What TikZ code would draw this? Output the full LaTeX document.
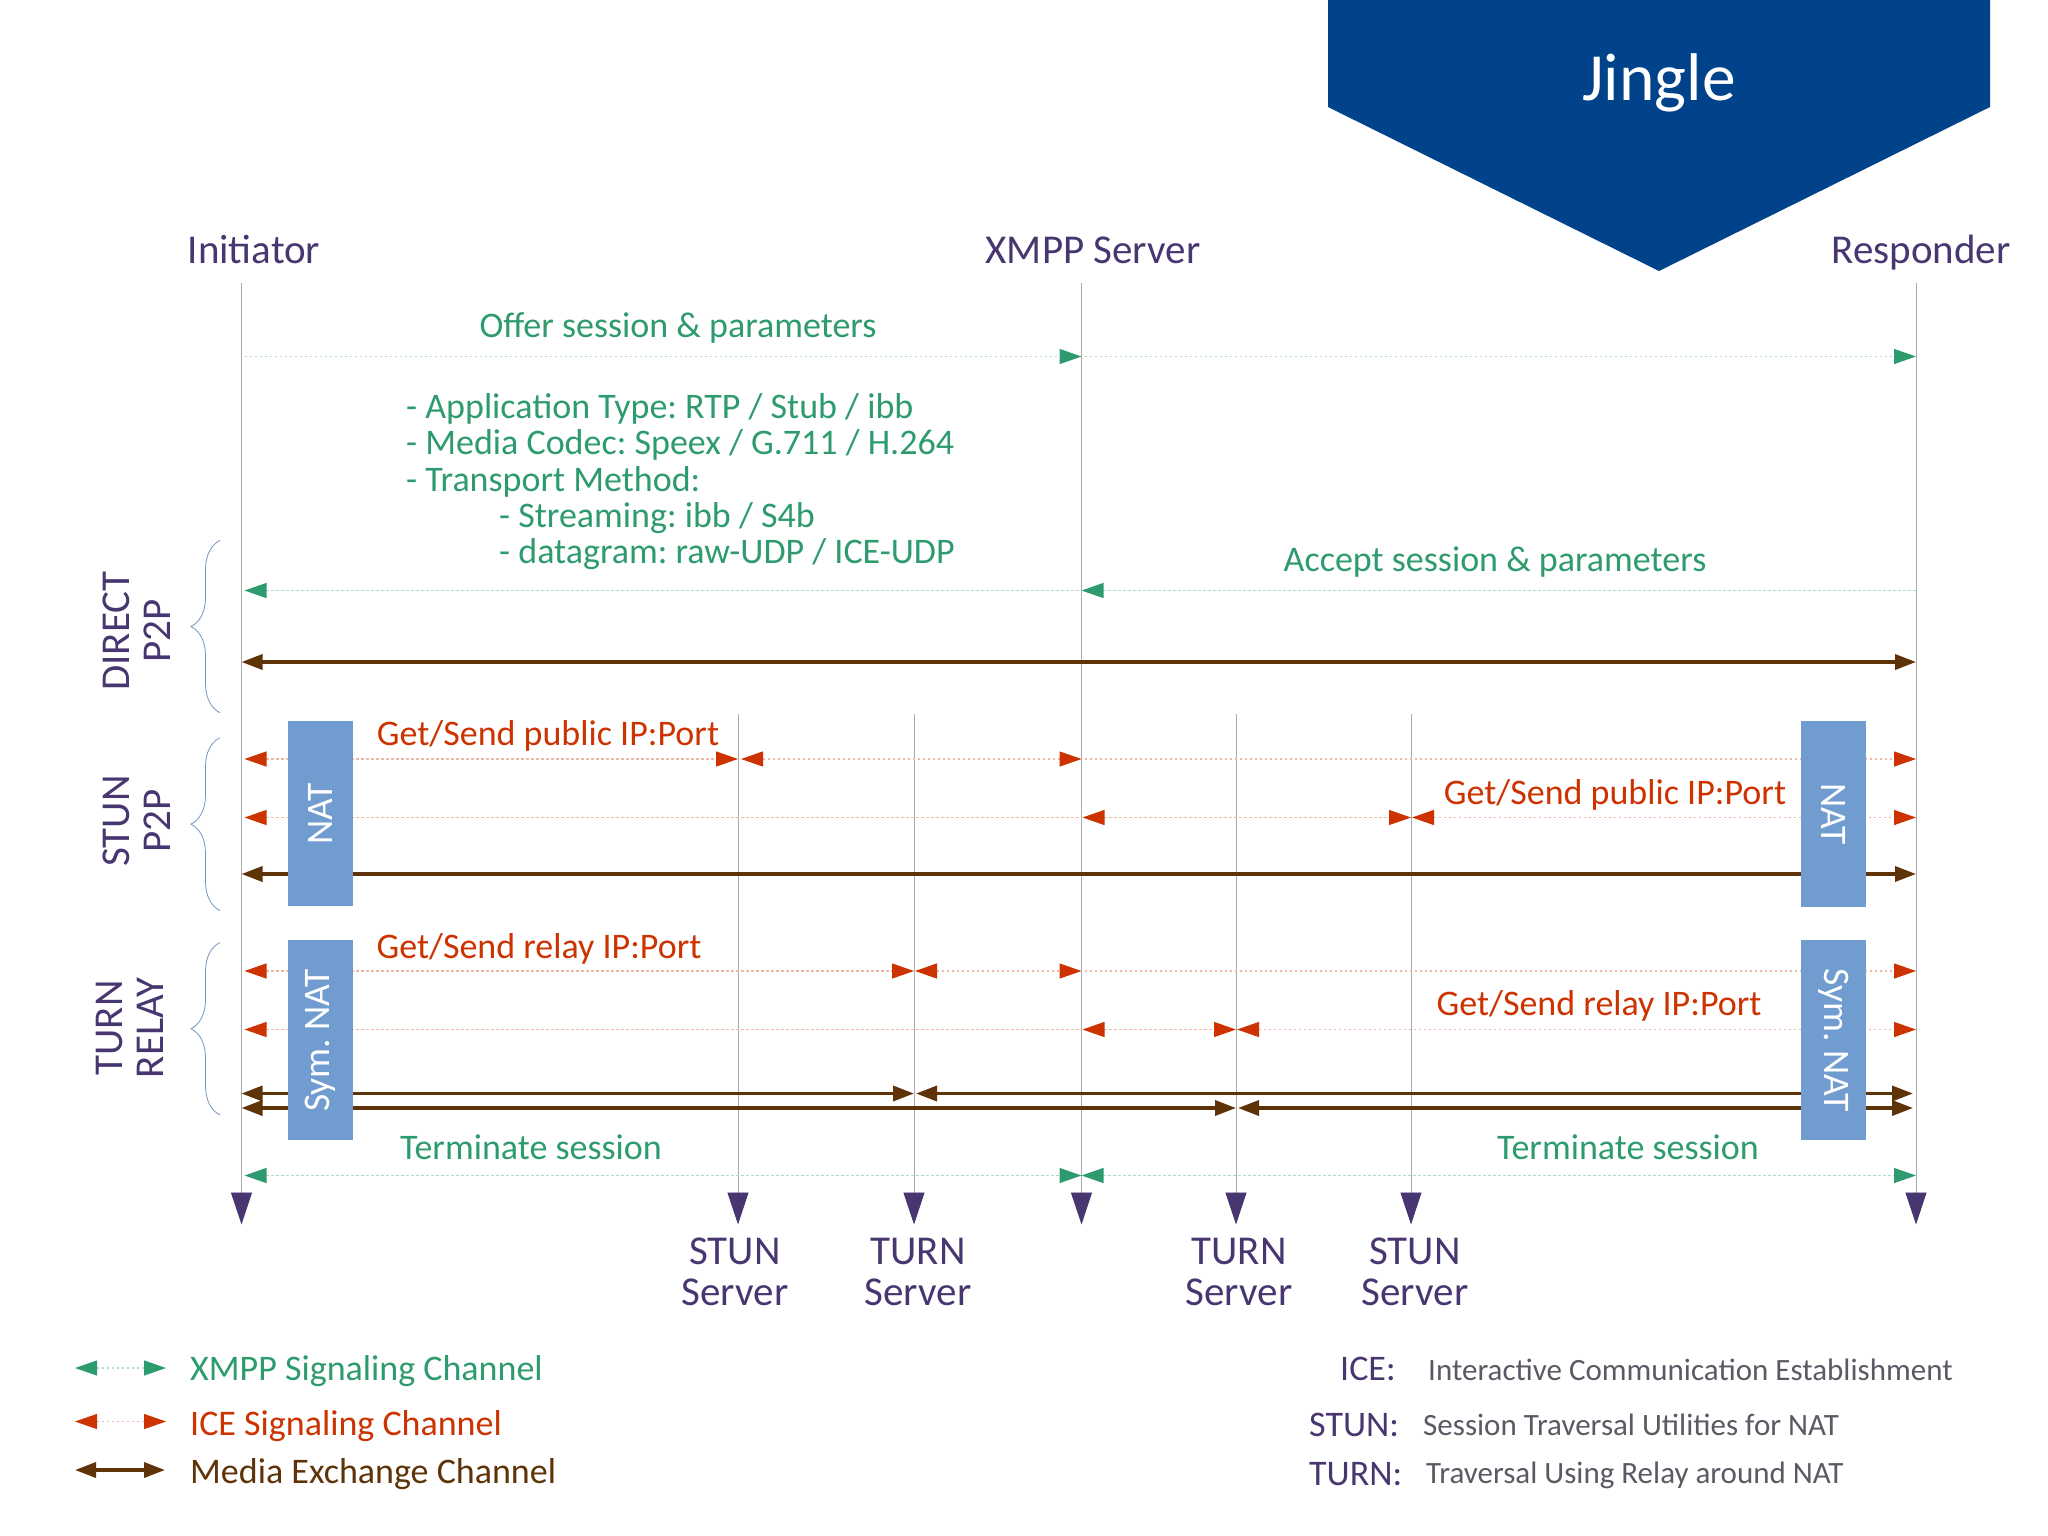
\documentclass[tikz,border=0pt]{standalone}
\usepackage{xcolor}
\usepackage{fontspec}
\setmainfont{Carlito}
\frenchspacing
\usetikzlibrary{arrows.meta, decorations.pathreplacing}
\definecolor{bannerblue}{RGB}{0, 67, 138}
\definecolor{natblue}{RGB}{112, 156, 208}
\definecolor{headpurple}{RGB}{72, 54, 112}
\definecolor{xmppgreen}{RGB}{46, 155, 110}
\definecolor{icered}{RGB}{204, 51, 0}
\definecolor{mediabrown}{RGB}{94, 51, 8}
\definecolor{noteblack}{RGB}{90, 90, 100}
\begin{document}
\begin{tikzpicture}[
    x=1pt, y=-1pt,
    lifeline/.style={draw=black!33, line width=0.8pt,
                     -{Triangle[length=32pt, width=21pt, color=headpurple]}},
    xmppline/.style={draw=xmppgreen!38, line width=1.2pt, dash pattern=on 2.5pt off 2.5pt,
                     >={Triangle[length=22pt, width=15pt, color=xmppgreen]}, shorten <=3pt},
    iceline/.style={draw=icered!35, line width=1.2pt, dash pattern=on 2.5pt off 2.5pt,
                    >={Triangle[length=22pt, width=15pt, color=icered]}, shorten <=3pt},
    medialine/.style={<->, draw=mediabrown, line width=3.5pt,
                      >={Triangle[length=21pt, width=15pt, color=mediabrown]}},
    natbox/.style={fill=natblue, text=white, inner sep=0pt, minimum height=65pt,
                   font=\fontsize{37.5}{40}\selectfont},
    bracket/.style={draw=natblue!80!gray, line width=0.8pt,
                    decorate, decoration={brace, amplitude=29pt}},
    head/.style={text=headpurple, font=\fontsize{41}{41}\selectfont, align=center},
    xmpptext/.style={text=xmppgreen, font=\fontsize{36}{36.4}\selectfont},
    icetext/.style={text=icered, font=\fontsize{36}{36.4}\selectfont},
    note/.style={text=noteblack, anchor=west, font=\fontsize{31}{34}\selectfont},
    notekey/.style={text=headpurple, anchor=west, font=\fontsize{36}{38}\selectfont}
]
\useasboundingbox (0,0) rectangle (2048,1535);

% Banner
\fill[bannerblue] (1328,0) -- (1990,0) -- (1990,107) -- (1659,271) -- (1328,107) -- cycle;
\node[text=white, font=\fontsize{67.5}{70}\selectfont] (jingle) at (1659,83) {Jingle};

% Lifelines
\coordinate (init) at (241.5,283);
\coordinate (xmpp) at (1081.5,283);
\coordinate (resp) at (1916,283);
\coordinate (stunl) at (738,714);
\coordinate (turnl) at (914,714);
\coordinate (turnr) at (1236,714);
\coordinate (stunr) at (1411,714);
\coordinate (endrow) at (0,1224.5);
\draw[lifeline] (init) -- (init |- endrow);
\draw[lifeline] (xmpp) -- (xmpp |- endrow);
\draw[lifeline] (resp) -- (resp |- endrow);
\draw[lifeline] (stunl) -- (stunl |- endrow);
\draw[lifeline] (turnl) -- (turnl |- endrow);
\draw[lifeline] (turnr) -- (turnr |- endrow);
\draw[lifeline] (stunr) -- (stunr |- endrow);

% Message rows
\coordinate (offer) at (0,356.5);
\coordinate (accept) at (0,590.5);
\coordinate (direct) at (0,662);
\coordinate (stunup) at (0,759);
\coordinate (stundown) at (0,817.5);
\coordinate (stunmedia) at (0,874);
\coordinate (turnup) at (0,971);
\coordinate (turndown) at (0,1029.5);
\coordinate (turnmediaa) at (0,1093.5);
\coordinate (turnmediab) at (0,1108);
\coordinate (finish) at (0,1175.5);

% XMPP signaling
\draw[xmppline, ->] (init |- offer) -- (xmpp |- offer);
\draw[xmppline, ->] (xmpp |- offer) -- (resp |- offer);
\draw[xmppline, <-] (init |- accept) -- (xmpp |- accept);
\draw[xmppline, <-, shorten <=0pt] (xmpp |- accept) -- (resp |- accept);
\draw[xmppline, <->] (init |- finish) -- (xmpp |- finish);
\draw[xmppline, <->, shorten <=0pt] (xmpp |- finish) -- (resp |- finish);

% ICE signaling
\draw[iceline, <->] (init |- stunup) -- (stunl |- stunup);
\draw[iceline, <->] (stunl |- stunup) -- (xmpp |- stunup);
\draw[iceline, ->] (xmpp |- stunup) -- (resp |- stunup);
\draw[iceline, <-] (init |- stundown) -- (xmpp |- stundown);
\draw[iceline, <->, shorten <=1pt] (xmpp |- stundown) -- (stunr |- stundown);
\draw[iceline, <->, shorten <=1pt] (stunr |- stundown) -- (resp |- stundown);
\draw[iceline, <->] (init |- turnup) -- (turnl |- turnup);
\draw[iceline, <->, shorten <=1pt] (turnl |- turnup) -- (xmpp |- turnup);
\draw[iceline, ->] (xmpp |- turnup) -- (resp |- turnup);
\draw[iceline, <-] (init |- turndown) -- (xmpp |- turndown);
\draw[iceline, <->, shorten <=1pt] (xmpp |- turndown) -- (turnr |- turndown);
\draw[iceline, <->, shorten <=1pt] (turnr |- turndown) -- (resp |- turndown);

% Media exchange
\draw[medialine] (init |- direct) -- (resp |- direct);
\draw[medialine] (init |- stunmedia) -- (resp |- stunmedia);
\draw[medialine] (init |- turnmediaa) -- (turnl |- turnmediaa);
\draw[medialine, shorten <=2pt, shorten >=3pt] (turnl |- turnmediaa) -- (resp |- turnmediaa);
\draw[medialine] (init |- turnmediab) -- (turnr |- turnmediab);
\draw[medialine, shorten <=2pt, shorten >=3pt] (turnr |- turnmediab) -- (resp |- turnmediab);

% NAT boxes
\node[natbox, rotate=90, minimum width=185.5pt] (natl) at (320.2,813.6) {NAT};
\node[natbox, rotate=-90, minimum width=185.5pt] (natr) at (1833.4,813.8) {NAT};
\node[natbox, rotate=90, minimum width=200pt] (symnatl) at (320.2,1040.4) {Sym. NAT};
\node[natbox, rotate=-90, minimum width=200pt] (symnatr) at (1833.4,1040.4) {Sym. NAT};

% Lifeline heads
\node[head, anchor=base] (initiator) at (254,263) {Initiator};
\node[head, anchor=base] (server) at (1093,263) {XMPP Server};
\node[head, anchor=base] (responder) at (1921,263) {Responder};
\node[head] (stunlname) at (735,1272) {STUN\\Server};
\node[head] (turnlname) at (918,1272) {TURN\\Server};
\node[head] (turnrname) at (1239,1272) {TURN\\Server};
\node[head] (stunrname) at (1415,1272) {STUN\\Server};

% Message labels
\node[xmpptext] (offertext) at (678,328) {Offer session \& parameters};
\node[xmpptext, align=left, anchor=north west, inner sep=0pt] (details) at (406,393) {%
    - Application Type: RTP / Stub / ibb\\
    - Media Codec: Speex / G.711 / H.264\\
    - Transport Method:\\
    \hspace{93pt}- Streaming: ibb / S4b\\
    \hspace{93pt}- datagram: raw-UDP / ICE-UDP};
\node[xmpptext] (accepttext) at (1495,562) {Accept session \& parameters};
\node[icetext] (publicl) at (548,736) {Get/Send public IP:Port};
\node[icetext] (publicr) at (1615,795) {Get/Send public IP:Port};
\node[icetext] (relayl) at (539,948.5) {Get/Send relay IP:Port};
\node[icetext] (relayr) at (1599,1006) {Get/Send relay IP:Port};
\node[xmpptext] (finishl) at (531,1147) {Terminate session};
\node[xmpptext] (finishr) at (1628,1147) {Terminate session};

% Scenario brackets
\draw[bracket] (220,712.7) -- (220,540.4);
\draw[bracket] (220,910.6) -- (220,737.6);
\draw[bracket] (220,1115) -- (220,942.4);
\node[head, rotate=90] (directname) at (137,631) {DIRECT\\P2P};
\node[head, rotate=90] (stunname) at (137,821) {STUN\\P2P};
\node[head, rotate=90] (turnname) at (130,1028) {TURN\\RELAY};

% Legend
\coordinate (keyl) at (75,0);
\coordinate (keyr) at (166,0);
\coordinate (keyxmpp) at (0,1368);
\coordinate (keyice) at (0,1421.5);
\coordinate (keymedia) at (0,1470);
\draw[xmppline, <->, shorten <=0pt] (keyl |- keyxmpp) -- (keyr |- keyxmpp);
\draw[iceline, <->, shorten <=0pt] (keyl |- keyice) -- (keyr |- keyice);
\draw[medialine, shorten >=1pt] (keyl |- keymedia) -- (keyr |- keymedia);
\node[xmpptext, anchor=west, inner sep=0pt] (xmppkey) at (190,1371) {XMPP Signaling Channel};
\node[icetext, anchor=west, inner sep=0pt] (icekey) at (190,1426) {ICE Signaling Channel};
\node[text=mediabrown, anchor=west, inner sep=0pt, font=\fontsize{36}{36.4}\selectfont] (mediakey) at (190,1474) {Media Exchange Channel};

% Glossary
\node[notekey, inner sep=0pt] (icename) at (1340,1369) {ICE:};
\node[note, inner sep=0pt] (icenote) at (1428,1370) {Interactive Communication Establishment};
\node[notekey, inner sep=0pt] (stunnote) at (1309,1425) {STUN:};
\node[note, inner sep=0pt] (stunnotetext) at (1423,1425) {Session Traversal Utilities for NAT};
\node[notekey, inner sep=0pt] (turnnote) at (1309,1474) {TURN:};
\node[note, inner sep=0pt] (turnnotetext) at (1426,1475) {Traversal Using Relay around NAT};
\end{tikzpicture}
\end{document}
